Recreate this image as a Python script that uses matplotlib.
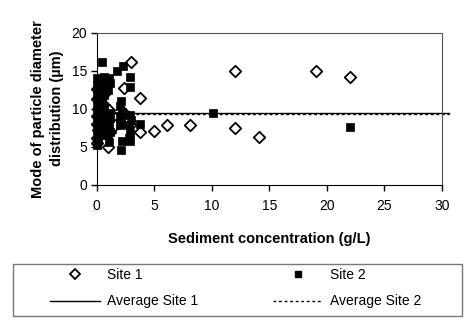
import matplotlib

matplotlib.use('Agg')

import matplotlib.pyplot as plt
from matplotlib.lines import Line2D
from matplotlib.patches import Rectangle

plt.rcParams['font.family'] = ['Liberation Sans', 'DejaVu Sans']

# Site 1 (open diamonds)
site1_x = [0.0, 0.0, 0.1, 0.0, 0.0, 0.1, 0.0, 0.0,
           0.6, 0.6, 0.7, 0.6,
           1.1, 1.1, 1.2, 1.0,
           1.6, 1.6,
           2.4, 2.4, 2.3,
           2.8, 2.9, 3.0,
           3.8, 3.8, 5.0, 6.1, 8.1,
           12.0, 12.0, 14.1, 19.1, 22.0]
site1_y = [12.6, 11.3, 10.0, 9.0, 8.0, 7.2, 6.2, 5.5,
           12.0, 10.5, 9.0, 7.8,
           9.8, 8.5, 7.0, 5.0,
           8.8, 7.8,
           12.7, 9.5, 8.2,
           8.5, 7.8, 16.2,
           11.4, 6.9, 7.1, 7.9, 7.9,
           15.0, 7.5, 6.3, 15.0, 14.2]

# Site 2 (filled squares)
site2_x = [0.0, 0.1, 0.0, 0.1, 0.0, 0.1, 0.0, 0.1, 0.0, 0.1, 0.0, 0.1, 0.0, 0.1, 0.0, 0.1, 0.0,
           0.5, 0.6, 0.5, 0.6, 0.5, 0.6, 0.5, 0.6, 0.5, 0.6, 0.5, 0.6, 0.5, 0.6, 0.5,
           1.1, 1.0, 1.2, 1.1, 1.0, 1.2, 1.1, 1.0, 1.2, 1.1,
           2.1, 2.2, 2.0, 2.1, 2.0, 2.2, 2.0, 2.1, 1.8, 2.3,
           2.9, 2.8, 2.9, 2.8, 3.0, 2.9, 2.9, 2.9,
           3.8, 10.1, 22.0]
site2_y = [5.2, 6.0, 6.6, 7.1, 7.6, 8.1, 8.6, 9.1, 9.6, 10.1, 10.6, 11.2, 11.8, 12.4, 13.0, 13.6, 14.0,
           6.5, 7.0, 7.5, 8.0, 8.5, 9.0, 9.5, 10.2, 11.0, 11.8, 12.5, 13.2, 13.8, 14.2, 16.2,
           5.6, 6.5, 7.0, 7.6, 8.2, 8.8, 9.4, 12.5, 13.4, 14.0,
           4.6, 5.7, 7.8, 8.4, 9.0, 9.6, 10.3, 11.0, 15.0, 15.6,
           5.7, 6.2, 6.8, 7.8, 8.5, 9.2, 12.8, 14.2,
           8.0, 9.5, 7.6]

avg_site1 = 9.4
avg_site2 = 9.35
avg_x = [0, 30.6]

fig = plt.figure(figsize=(4.74, 3.28), dpi=100)
ax = fig.add_axes([0.204, 0.437, 0.728, 0.463])

# site 2 is drawn over site 1, as in the original
ax.scatter(site1_x, site1_y, marker='D', s=34, facecolor='white', edgecolor='black',
           linewidths=1.3, zorder=3, clip_on=False)
ax.scatter(site2_x, site2_y, marker='s', s=34, facecolor='black', edgecolor='black',
           linewidths=0.5, zorder=4, clip_on=False)
ax.plot(avg_x, [avg_site1] * 2, color='black', lw=1.0, clip_on=False, zorder=2)
ax.plot(avg_x, [avg_site2] * 2, color='black', lw=1.0, ls=(0, (2, 2)), clip_on=False, zorder=2)

ax.set_xlim(0, 30)
ax.set_ylim(0, 20)
ax.set_xticks(range(0, 31, 5))
ax.set_yticks(range(0, 21, 5))
ax.tick_params(direction='out', length=4, width=1, labelsize=10)
ax.tick_params(axis='x', pad=6)
ax.tick_params(axis='y', pad=3)
for side in ('left', 'bottom'):
    ax.spines[side].set_color('black')
for side in ('top', 'right'):
    ax.spines[side].set_color('#555555')

ax.set_xlabel('Sediment concentration (g/L)', fontsize=10.5, fontweight='bold', labelpad=14)
ax.set_ylabel('Mode of particle diameter\ndistribution (µm)', fontsize=10.5,
              fontweight='bold', labelpad=5, linespacing=1.5)

# legend box drawn across the lower part of the figure
fig.patches.append(Rectangle((13 / 474, 1 - 316 / 328), 449 / 474, 52 / 328,
                             transform=fig.transFigure, fill=False,
                             edgecolor='#777777', lw=1.0))

handles = [
    Line2D([], [], marker='D', ls='none', markersize=5.5, markerfacecolor='white',
           markeredgecolor='black', markeredgewidth=1.3),
    Line2D([], [], color='black', lw=1.0),
    Line2D([], [], marker='s', ls='none', markersize=5, color='black'),
    Line2D([], [], color='black', lw=1.0, ls=(0, (2, 2))),
]
labels = ['Site 1', 'Average Site 1', 'Site 2', 'Average Site 2']
fig.legend(handles, labels, ncol=2, loc='upper left',
           bbox_to_anchor=(50 / 474, 1 - 268 / 328),
           fontsize=10, frameon=False, handlelength=3.6, handletextpad=0.5,
           borderpad=0, borderaxespad=0, labelspacing=0.9, columnspacing=5.4)

fig.savefig('out.png', dpi=100)
